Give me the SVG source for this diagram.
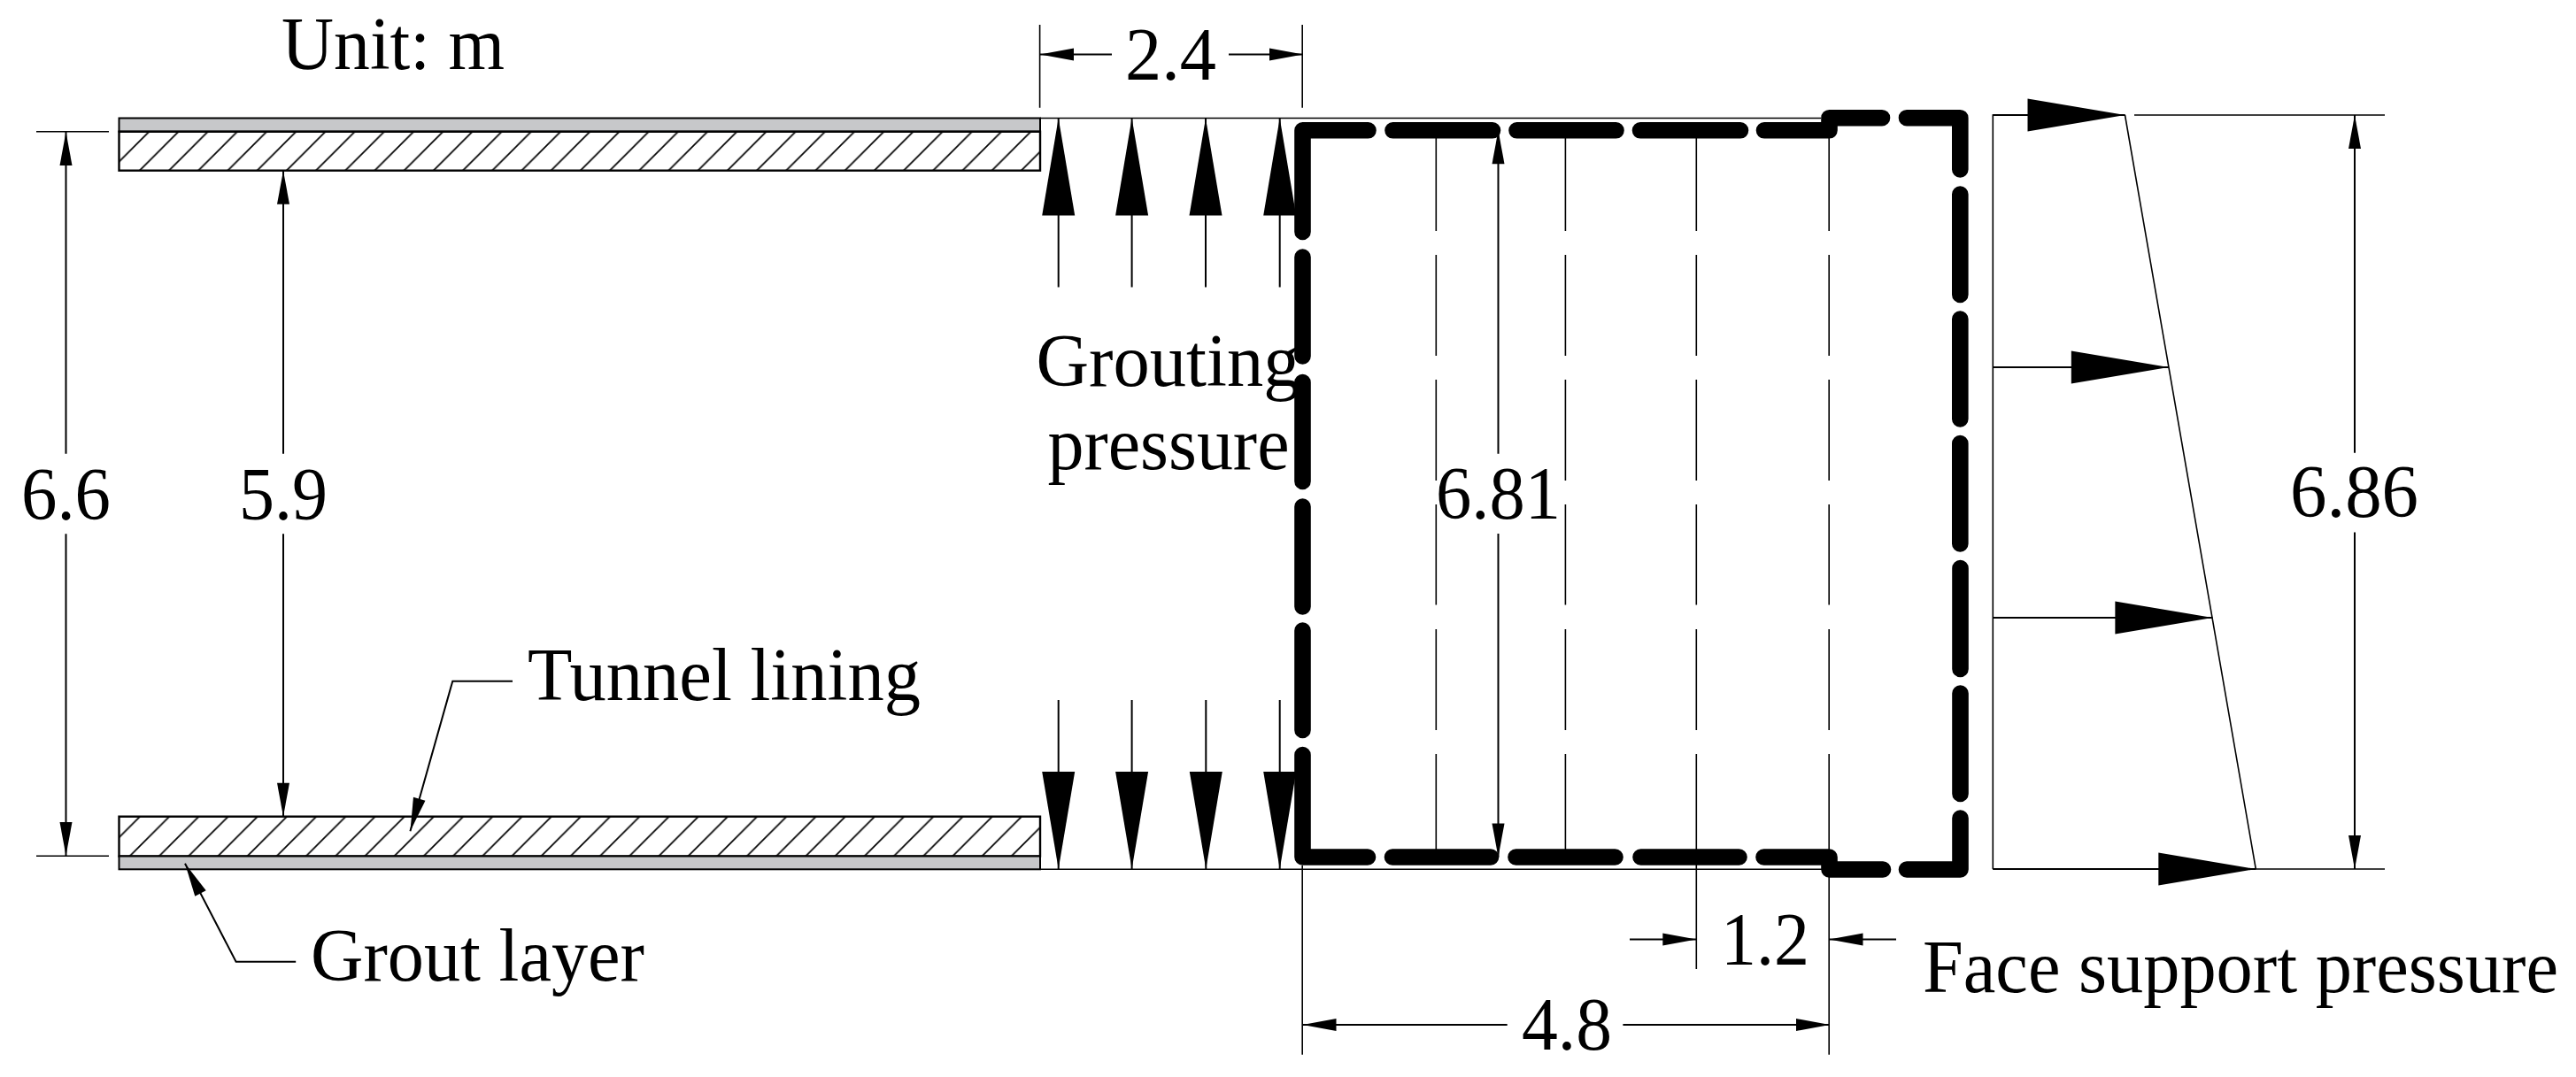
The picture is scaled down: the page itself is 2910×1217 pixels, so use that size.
<svg xmlns="http://www.w3.org/2000/svg" width="2910" height="1217" viewBox="0 0 2910 1217">
<style>
text{font-family:"Liberation Serif","Times New Roman",serif;font-size:84px;fill:#000;lengthAdjust:spacingAndGlyphs}
.thin{stroke:#000;stroke-width:1.6;fill:none}
.dim{stroke:#000;stroke-width:2;fill:none;marker-end:url(#small)}
.load{stroke:#000;stroke-width:2;fill:none;marker-end:url(#large)}
.thick{stroke:#000;stroke-width:18.6;fill:none;stroke-linecap:round;stroke-linejoin:round}
.grout{fill:#c7c8ca;stroke:#000;stroke-width:2}
.hatch{fill:url(#hatch);stroke:#000;stroke-width:2.4}
</style>
<defs>
<pattern id="hatch" patternUnits="userSpaceOnUse" width="33.2" height="33.2" patternTransform="translate(18.4,0)">
<path d="M-4,37.2L37.2,-4" stroke="#000" stroke-width="1.7" fill="none"/>
<path d="M-4,4L4,-4M29.2,37.2L37.2,29.2" stroke="#000" stroke-width="1.7" fill="none"/>
</pattern>
<marker id="small" markerUnits="userSpaceOnUse" markerWidth="38" markerHeight="15" viewBox="0 0 38 15" refX="38" refY="7.5" orient="auto" overflow="visible"><path d="M0,0.5L38,7.5L0,14.5Z" fill="#000"/></marker>
<marker id="large" markerUnits="userSpaceOnUse" markerWidth="110" markerHeight="38" viewBox="0 0 110 38" refX="110" refY="19" orient="auto" overflow="visible"><path d="M0,0.5L110,19L0,37.5Z" fill="#000"/></marker>
</defs>

<g id="lining-top">
<rect class="grout" x="134.5" y="133.5" width="1040.5" height="15.2"/>
<rect class="hatch" x="134.5" y="148.7" width="1040.5" height="44"/>
</g>
<g id="lining-bottom">
<rect class="hatch" x="134.5" y="922.7" width="1040.5" height="44.8"/>
<rect class="grout" x="134.5" y="967.5" width="1040.5" height="14.8"/>
</g>

<g id="labels">
<text x="318" y="78" textLength="252" lengthAdjust="spacingAndGlyphs">Unit: m</text>
<text x="24" y="586.7" textLength="101" lengthAdjust="spacingAndGlyphs">6.6</text>
<text x="270" y="586.7" textLength="100" lengthAdjust="spacingAndGlyphs">5.9</text>
<text x="596" y="790.7" textLength="444" lengthAdjust="spacingAndGlyphs">Tunnel lining</text>
<text x="351" y="1108" textLength="377" lengthAdjust="spacingAndGlyphs">Grout layer</text>
<text x="1271" y="90" textLength="103" lengthAdjust="spacingAndGlyphs">2.4</text>
<text x="1170.5" y="436.3" textLength="298" lengthAdjust="spacingAndGlyphs">Grouting</text>
<text x="1183.5" y="530" textLength="273" lengthAdjust="spacingAndGlyphs">pressure</text>
<text x="1622" y="586.3" textLength="141" lengthAdjust="spacingAndGlyphs">6.81</text>
<text x="2587" y="584.4" textLength="145" lengthAdjust="spacingAndGlyphs">6.86</text>
<text x="1944" y="1090" textLength="100" lengthAdjust="spacingAndGlyphs">1.2</text>
<text x="1719" y="1185.8" textLength="102" lengthAdjust="spacingAndGlyphs">4.8</text>
<text x="2172" y="1121" textLength="718" lengthAdjust="spacingAndGlyphs">Face support pressure</text>
</g>

<g id="connectors">
<path class="thin" d="M41,148.7H123M41,967.3H123"/>
<path class="thin" d="M1175,133.5H2057M1175,982.3H2060"/>
<path class="thin" d="M1174.6,28V121.7M1471.2,28V121.7M1471.2,978V1191.7M1916.3,960V1095M2066.2,978V1191.7"/>
<path class="thin" d="M1622.3,156V261M1622.3,288V402M1622.3,429V543M1622.3,570V683.5M1622.3,711V825M1622.3,852V960"/>
<path class="thin" d="M1768.4,156V261M1768.4,288V402M1768.4,429V543M1768.4,570V683.5M1768.4,711V825M1768.4,852V960"/>
<path class="thin" d="M1916.3,156V261M1916.3,288V402M1916.3,429V543M1916.3,570V683.5M1916.3,711V825M1916.3,852V960"/>
<path class="thin" d="M2066.2,156V261M2066.2,288V402M2066.2,429V543M2066.2,570V683.5M2066.2,711V825M2066.2,852V960"/>

<path class="dim" d="M74.5,512.7V149"/>
<path class="dim" d="M74.5,603.3V967"/>
<path class="dim" d="M320,512.7V192.7"/>
<path class="dim" d="M320,603.3V922.7"/>
<path class="dim" d="M579,769.7H511.3L463.4,939.3"/>
<path class="dim" d="M334.2,1086.7H266.6L209,975.7"/>
<path class="dim" d="M1256,61.6H1175"/>
<path class="dim" d="M1388,61.6H1472"/>
<path class="dim" d="M1692.5,512.8V147.3"/>
<path class="dim" d="M1692.5,603V968.5"/>
<path class="dim" d="M1841,1061.4H1916.3"/>
<path class="dim" d="M2142,1061.4H2066.5"/>
<path class="dim" d="M1702.7,1158H1471.5"/>
<path class="dim" d="M1833.4,1158H2067"/>
<path class="dim" d="M2660,511.7V130"/>
<path class="dim" d="M2660,601.6V982"/>

<path class="load" d="M1195.7,324.5V133.5"/>
<path class="load" d="M1278.6,324.5V133.5"/>
<path class="load" d="M1362,324.5V133.5"/>
<path class="load" d="M1445.7,324.5V133.5"/>
<path class="load" d="M1195.7,791V982"/>
<path class="load" d="M1278.6,791V982"/>
<path class="load" d="M1362.3,791V982"/>
<path class="load" d="M1445.7,791V982"/>
</g>

<g id="face-pressure">
<path class="thin" d="M2251.3,982V130H2400.5M2411,130H2694M2251.3,982H2694M2400.5,130L2548.3,982"/>
<path class="load" d="M2251.3,130H2400.5"/>
<path class="load" d="M2251.3,414.9H2449.8"/>
<path class="load" d="M2251.3,698H2499.4"/>
<path class="load" d="M2251.3,982H2548.3"/>
</g>

<g id="excavation-boundary">
<path class="thick" d="M1545.5,147.3H1471.5V262"/>
<path class="thick" d="M1573.5,147.3H1686M1713.5,147.3H1825.5M1853,147.3H1966M1993,147.3H2066.5V133.2H2126M2154,133.2H2214.3V191.5"/>
<path class="thick" d="M1471.5,290.5V402.5M1471.5,432V544M1471.5,572.5V685.5M1471.5,712.5V825M1471.5,853V968.5H1545"/>
<path class="thick" d="M1573,968.5H1684M1712.5,968.5H1824.5M1853.5,968.5H1964.5M1992.5,968.5H2066.5V982.5H2127M2154,982.5H2214.5V924.5"/>
<path class="thick" d="M2214.3,219.5V333M2214.3,360.5V473.5M2214.3,501V614.5M2214.5,642V756M2214.5,783.5V897"/>
</g>
</svg>
